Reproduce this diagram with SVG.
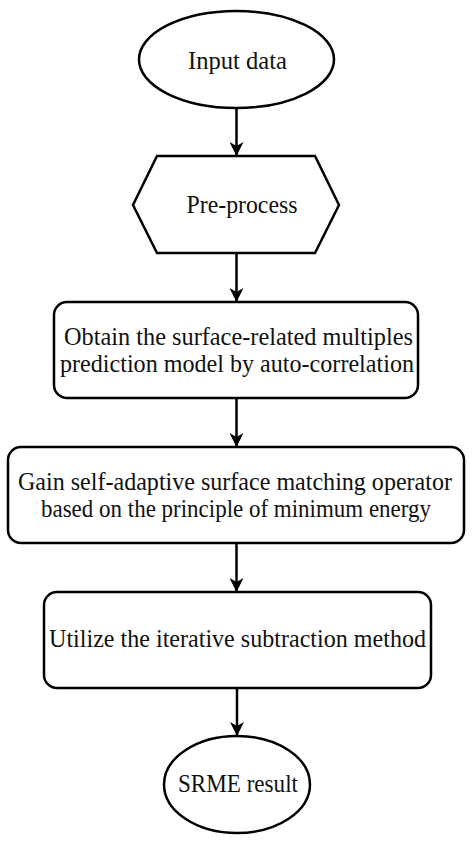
<svg xmlns="http://www.w3.org/2000/svg" width="474" height="845" viewBox="0 0 474 845">
<style>
.s{fill:#fff;stroke:#000;stroke-width:2.5}
.t{font-family:"Liberation Serif","DejaVu Serif",serif;font-size:24.5px;fill:#111;text-anchor:middle}
.c{stroke:#000;stroke-width:2.5;fill:none}
</style>
<defs>
<marker id="ah" markerWidth="14" markerHeight="14" viewBox="0 0 14 14" refX="13" refY="7" orient="auto" markerUnits="userSpaceOnUse">
<path d="M0,0 L14,7 L0,14 L4,7 Z" fill="#000"/>
</marker>
</defs>
<rect width="474" height="845" fill="#fff"/>
<g id="connectors">
<line class="c" x1="236.5" y1="108" x2="236.5" y2="155" marker-end="url(#ah)"/>
<line class="c" x1="236.5" y1="253" x2="236.5" y2="301" marker-end="url(#ah)"/>
<line class="c" x1="236.5" y1="398" x2="236.5" y2="446" marker-end="url(#ah)"/>
<line class="c" x1="236.5" y1="543" x2="236.5" y2="591" marker-end="url(#ah)"/>
<line class="c" x1="237" y1="688" x2="237" y2="735" marker-end="url(#ah)"/>
</g>
<g id="input">
<ellipse class="s" cx="236.5" cy="59.5" rx="97.5" ry="48.5"/>
<text class="t" x="237.5" y="69" textLength="99" lengthAdjust="spacingAndGlyphs">Input data</text>
</g>
<g id="preprocess">
<polygon class="s" points="157,156 315,156 339,205 315,253 157,253 133,205"/>
<text class="t" x="242" y="213" textLength="111" lengthAdjust="spacingAndGlyphs">Pre-process</text>
</g>
<g id="obtain">
<rect class="s" x="54" y="302" width="364" height="96" rx="13"/>
<text class="t" x="238.5" y="345" textLength="349" lengthAdjust="spacingAndGlyphs">Obtain the surface-related multiples</text>
<text class="t" x="237" y="372" textLength="354" lengthAdjust="spacingAndGlyphs">prediction model by auto-correlation</text>
</g>
<g id="gain">
<rect class="s" x="8" y="447" width="456" height="96" rx="13"/>
<text class="t" x="235" y="490" textLength="434" lengthAdjust="spacingAndGlyphs">Gain self-adaptive surface matching operator</text>
<text class="t" x="236" y="517" textLength="390" lengthAdjust="spacingAndGlyphs">based on the principle of minimum energy</text>
</g>
<g id="utilize">
<rect class="s" x="44" y="592" width="387" height="96" rx="13"/>
<text class="t" x="237.5" y="647" textLength="377" lengthAdjust="spacingAndGlyphs">Utilize the iterative subtraction method</text>
</g>
<g id="result">
<ellipse class="s" cx="237" cy="784.5" rx="73" ry="48.5"/>
<text class="t" x="238" y="792" textLength="120" lengthAdjust="spacingAndGlyphs">SRME result</text>
</g>
</svg>
